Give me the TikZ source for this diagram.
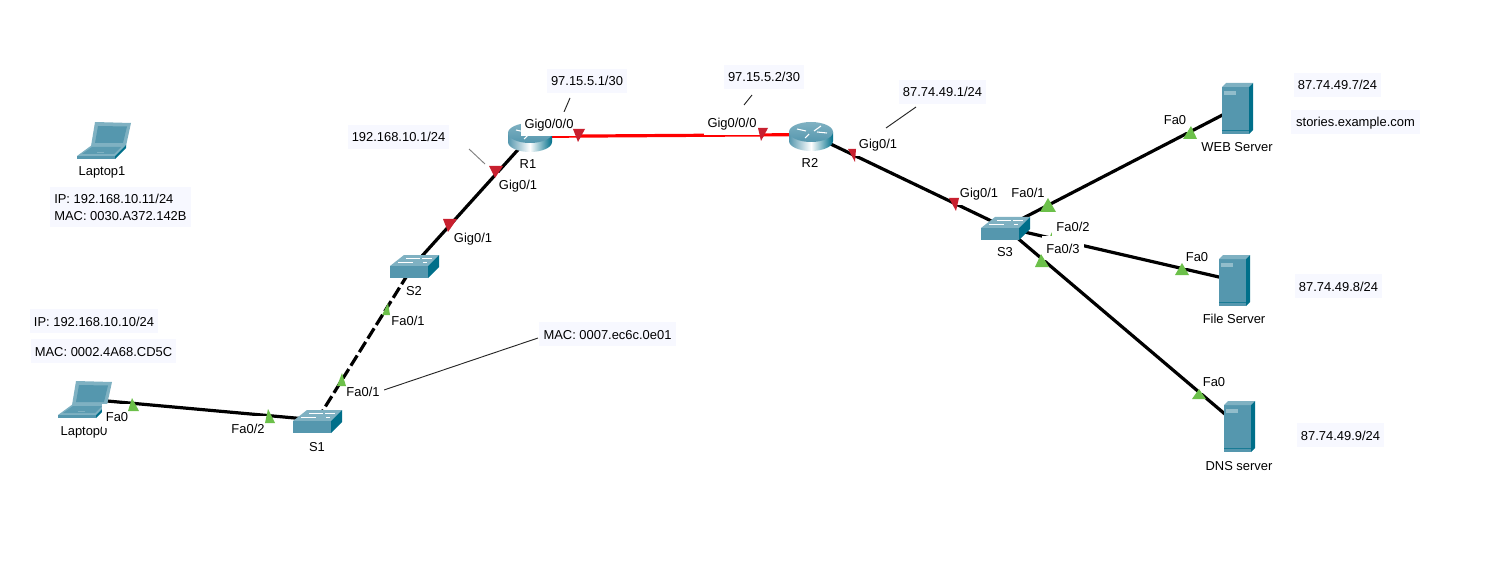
\documentclass[tikz,border=0pt]{standalone}
\usepackage{fontspec}
\setmainfont{Liberation Sans}
\usetikzlibrary{calc}
\definecolor{noteBg}{HTML}{F7F8FF}
\definecolor{devTop}{HTML}{7FB1C2}
\definecolor{devFront}{HTML}{5597AE}
\definecolor{devSide}{HTML}{006F8A}
\definecolor{portGreen}{HTML}{6CC04A}
\definecolor{portRed}{HTML}{C8202F}
\definecolor{linkRed}{HTML}{FF0000}
\tikzset{
  txt/.style={font=\fontsize{9.7}{11}\selectfont, inner sep=0pt, text height=9pt, text depth=1.5pt},
  devlabel/.style={txt},
  portlabel/.style={txt, fill=white, inner xsep=3pt, minimum height=18pt},
  notelabel/.style={txt, fill=noteBg, inner xsep=0pt, minimum height=18pt},
  link/.style={line width=2.4pt, black},
  redlink/.style={line width=2.4pt, linkRed},
  leader/.style={line width=.7pt, black!85},
  greentri/.style={fill=portGreen},
  redtri/.style={fill=portRed},
  pics/laptop/.style={code={
    \fill[devTop] (18,0) -- (54,1) -- (49,24) -- (14,24) -- cycle;
    \fill[devFront] (21,4) -- (50,4.5) -- (46,21) -- (18,21) -- cycle;
    \fill[devTop] (0,34) -- (15,23) -- (49,23) -- (38,34) -- cycle;
    \fill[devFront!85!devTop] (5,32) -- (15,25) -- (44,25) -- (37,32) -- cycle;
    \fill[devFront] (0,34) rectangle (38,37);
    \draw[devTop, line width=.6pt] (20,30) -- (27,30);
    \fill[devSide] (38,34) -- (49,23) -- (49,26) -- (38,37) -- cycle;
  }},
  pics/switchbox/.style={code={
    \fill[devTop] (0,11) -- (14,0) -- (49,0) -- (38,11) -- cycle;
    \fill[devFront] (0,11) rectangle (38,23);
    \fill[devSide] (38,11) -- (49,0) -- (49,12) -- (38,23) -- cycle;
    \draw[white, line width=.6pt] (16,3) -- (30,3) (32,3) -- (42,3) (8,7.5) -- (23,7.5) (33,7) -- (37,7);
  }},
  pics/routerbox/.style={code={
    \shade[left color=devFront, right color=devSide, middle color=white]
      (0,10) -- (0,19) arc[start angle=180, end angle=0, x radius=22, y radius=10] -- (44,10) -- cycle;
    \shade[top color=devTop, bottom color=devFront] (22,10) ellipse[x radius=22, y radius=10];
    \draw[white, line width=.8pt] (8,7) -- (17,9) (25,9) -- (32,4) (28,10) -- (38,11) (20,12) -- (16,16);
  }},
  pics/serverbox/.style={code={
    \fill[devFront] (0,4) rectangle (27,51);
    \fill[devTop] (0,4) -- (4,0) -- (31,0) -- (27,4) -- cycle;
    \fill[devSide] (27,4) -- (31,0) -- (31,47) -- (27,51) -- cycle;
    \fill[devTop!85!white] (2,8) rectangle (14,12);
    \draw[devSide!70!devFront, line width=.5pt] (0,47) -- (27,47);
  }}
}
\begin{document}
\begin{tikzpicture}[x=.75pt, y=-.75pt]
\useasboundingbox (0,0) rectangle (1496,588);
% device centres
\coordinate (L0) at (85,399);
\coordinate (S1) at (317,420);
\coordinate (S2) at (413,266);
\coordinate (R1) at (530,136.4);
\coordinate (R2) at (811,134.6);
\coordinate (S3) at (1005,227.5);
\coordinate (WEB) at (1237,107.5);
\coordinate (FILE) at (1234,280.5);
\coordinate (DNS) at (1239,426);
% leader ends
\coordinate (a1) at (570,98);   \coordinate (a2) at (564,112);
\coordinate (b1) at (469,149);  \coordinate (b2) at (485,164);
\coordinate (c1) at (752,95);   \coordinate (c2) at (744,105);
\coordinate (d1) at (916,107);  \coordinate (d2) at (886,128);
\coordinate (e1) at (384,390);  \coordinate (e2) at (538,338);
% links
\draw[link] (L0) -- (S1);
\draw[link, dash pattern=on 9pt off 3pt] (S1) -- (S2);
\draw[link] (S2) -- (R1);
\draw[redlink] (R1) -- (R2);
\draw[link] (R2) -- (S3);
\draw[link] (S3) -- (WEB);
\draw[link] (S3) -- (FILE);
\draw[link] (S3) -- (DNS);
% leaders
\draw[leader] (a1) -- (a2);
\draw[leader, black!50] (b1) -- (b2);
\draw[leader] (c1) -- (c2);
\draw[leader] (d1) -- (d2);
\draw[leader] (e1) -- (e2);
% devices
\pic at (77,122) {laptop};
\pic at (58,381) {laptop};
\pic at (293,410) {switchbox};
\pic at (390,255) {switchbox};
\pic at (981,217) {switchbox};
\pic at (508,123) {routerbox};
\pic at (789,122) {routerbox};
\pic at (1222,83) {serverbox};
\pic at (1219,255) {serverbox};
\pic at (1224,401) {serverbox};
% device labels
\node[devlabel] (tL1) at (102,171) {Laptop1};
\node[devlabel] (tL0) at (84,430.5) {Laptop0};
\node[devlabel] (tS1) at (317,446) {S1};
\node[devlabel] (tS2) at (414,290) {S2};
\node[devlabel] (tR1) at (528,164) {R1};
\node[devlabel] (tR2) at (810,163) {R2};
\node[devlabel] (tS3) at (1005,252) {S3};
\node[devlabel] (tWEB) at (1237,147) {WEB Server};
\node[devlabel] (tFILE) at (1234,318) {File Server};
\node[devlabel] (tDNS) at (1239,465) {DNS server};
% Fa0/2 port mark, nearly hidden by the labels over it
\fill[greentri] (1052,232) -- (1046,245) -- (1060,245) -- cycle;
% port labels
\node[portlabel] (p1) at (117,416) {Fa0};
\node[portlabel] (p2) at (248,428) {Fa0/2};
\node[portlabel] (p3) at (363,391) {Fa0/1};
\node[portlabel] (p4) at (408,320) {Fa0/1};
\node[portlabel] (p5) at (473,238) {Gig0/1};
\node[portlabel] (p6) at (518,185) {Gig0/1};
\node[portlabel] (p7) at (549,124) {Gig0/0/0};
\node[portlabel] (p8) at (732,123) {Gig0/0/0};
\node[portlabel] (p9) at (878,144) {Gig0/1};
\node[portlabel] (p10) at (979,193) {Gig0/1};
\node[portlabel] (p11) at (1028,193) {Fa0/1};
\node[portlabel] (p12) at (1073,227) {Fa0/2};
\node[portlabel] (p13) at (1063,248) {Fa0/3};
\node[portlabel] (p14) at (1197,256) {Fa0};
\node[portlabel] (p15) at (1175,120) {Fa0};
\node[portlabel] (p16) at (1214,381) {Fa0};
% note labels
\node[notelabel, minimum width=60pt] (n1) at (587,81) {97.15.5.1/30};
\node[notelabel, minimum width=75.75pt] (n2) at (398.5,137) {192.168.10.1/24};
\node[notelabel, minimum width=60pt] (n3) at (764,77) {97.15.5.2/30};
\node[notelabel, minimum width=65.25pt] (n4) at (942.5,92) {87.74.49.1/24};
\node[fill=noteBg, minimum width=105.75pt, minimum height=30pt, inner sep=0pt] (n5) at (120.5,207) {};
\node[txt, anchor=west] (n5a) at (54,199) {IP: 192.168.10.11/24};
\node[txt, anchor=west] (n5b) at (54,215) {MAC: 0030.A372.142B};
\node[notelabel, minimum width=96pt] (n6) at (94,321) {IP: 192.168.10.10/24};
\node[notelabel, minimum width=108.75pt] (n7) at (103.5,351) {MAC: 0002.4A68.CD5C};
\node[notelabel, minimum width=102.75pt] (n8) at (607.5,334) {MAC: 0007.ec6c.0e01};
\node[notelabel, minimum width=65.25pt] (n9) at (1337.5,85) {87.74.49.7/24};
\node[notelabel, minimum width=96.75pt] (n10) at (1355.5,122) {stories.example.com};
\node[notelabel, minimum width=65.25pt] (n11) at (1338.5,286) {87.74.49.8/24};
\node[notelabel, minimum width=65.25pt] (n12) at (1340.5,435) {87.74.49.9/24};
% green port marks
\fill[greentri] (132,398) -- (128,411) -- (139,411) -- cycle;
\fill[greentri] (268,409) -- (265,423) -- (275,423) -- cycle;
\fill[greentri] (342,373) -- (337,386) -- (346,386) -- cycle;
\fill[greentri] (388,303) -- (382,315) -- (390,315) -- cycle;
\fill[greentri] (1048,198) -- (1040,212) -- (1056,212) -- cycle;
\fill[greentri] (1191,126) -- (1183,139) -- (1197,139) -- cycle;
\fill[greentri] (1182,263) -- (1175,275) -- (1189,275) -- cycle;
\fill[greentri] (1041,254) -- (1035,267) -- (1049,267) -- cycle;
\fill[greentri] (1199,389) -- (1192,399) -- (1206,399) -- cycle;
% red port marks
\fill[redtri] (573,129) -- (585,129) -- (578,142) -- cycle;
\fill[redtri] (489,166) -- (503,166) -- (495,178) -- cycle;
\fill[redtri] (443,219) -- (457,219) -- (448,232) -- cycle;
\fill[redtri] (758,128) -- (768,128) -- (761,141) -- cycle;
\fill[redtri] (848,149) -- (856,149) -- (855,162) -- cycle;
\fill[redtri] (949,198) -- (959,198) -- (956,211) -- cycle;
\end{tikzpicture}
\end{document}
